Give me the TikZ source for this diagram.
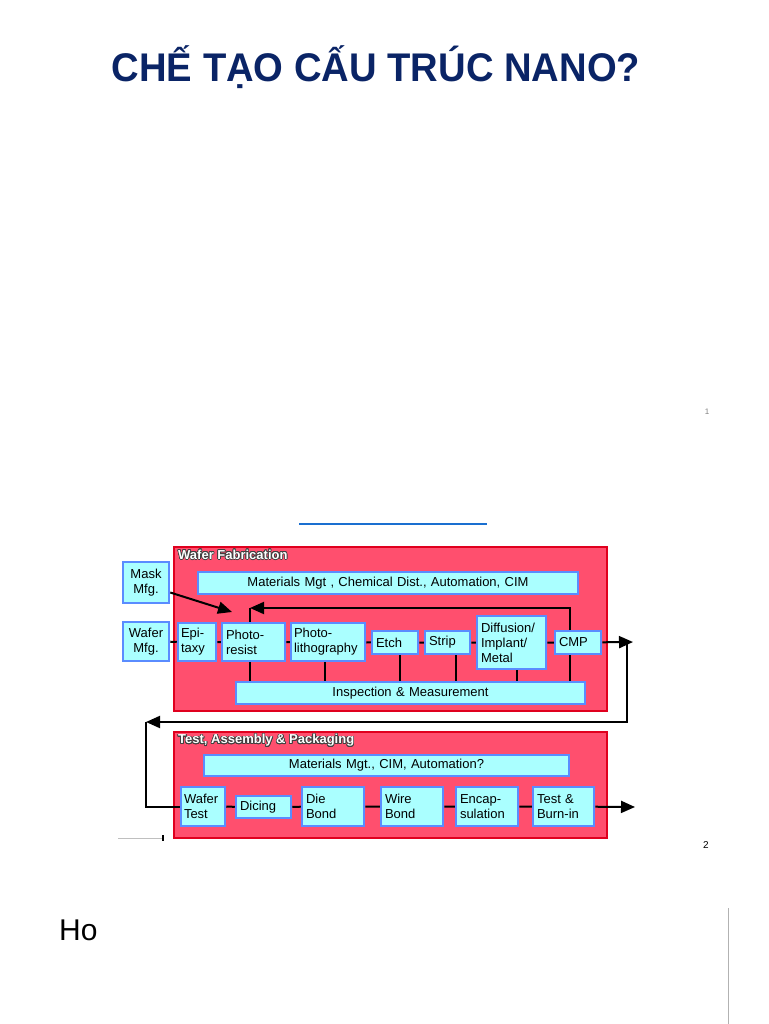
\documentclass[tikz,border=0pt]{standalone}
\usepackage{fontspec}
\setmainfont{Liberation Sans}
\usepackage{xcolor}
\usepackage[copies]{contour}
\usetikzlibrary{arrows.meta}
\definecolor{title-navy}{HTML}{0A2466}
\definecolor{panel-red}{HTML}{FF4F6E}
\definecolor{panel-edge}{HTML}{E0001E}
\definecolor{step-cyan}{HTML}{AAFFFF}
\definecolor{step-edge}{HTML}{5A8CFF}
\definecolor{link-blue}{HTML}{1A6FD0}
\contourlength{0.7pt}
\contournumber{16}

\begin{document}
\begin{tikzpicture}[x=1pt, y=-1pt,
      every node/.style={font=\fontsize{13}{15}\selectfont},
      panel/.style={draw=panel-edge, fill=panel-red, line width=2.5pt, inner sep=0pt},
      stepbox/.style={draw=step-edge, fill=step-cyan, line width=2.5pt,
                      inner sep=3pt, align=left},
      paneltitle/.style={anchor=west, inner sep=0pt, font=\bfseries\fontsize{13}{13}\selectfont},
      flow/.style={line width=2pt},
      tip/.style={-{Triangle[length=14pt,width=12pt]}}]
    \useasboundingbox (0,0) rectangle (768,1024);
    \node[font=\bfseries\fontsize{40}{48}\selectfont, text=title-navy] (title) at (376,67) {\scalebox{0.955}[1]{CHẾ TẠO CẤU TRÚC NANO?}};
    \node[font=\fontsize{8}{8}\selectfont, text=gray] (pg1) at (707,412) {1};
    \draw[link-blue, line width=2.5pt] (299,524) -- (487,524);
    % wafer fabrication panel
    \node[panel, minimum width=433, minimum height=164] (fab) at (390.5,629) {};
    \node[paneltitle] (fabtitle) at (178,555) {\contour{black!75}{\textcolor{white}{Wafer Fabrication}}};
    \node[stepbox, align=center, minimum width=46, minimum height=41, text width=40] (mmfg) at (146,582.5) {Mask\\Mfg.};
    \node[stepbox, align=center, minimum width=46, minimum height=39, text width=40] (wmfg) at (146,641.5) {Wafer\\Mfg.};
    \node[stepbox, align=center, minimum width=380, minimum height=22, text width=372] (mat1) at (388,583) {Materials Mgt , Chemical Dist., Automation, CIM};
    \node[stepbox, minimum width=38, minimum height=38, text width=32] (epi) at (197,642) {Epi-\\taxy};
    \node[stepbox, minimum width=63, minimum height=38, text width=55] (resist) at (253.5,642) {Photo-\\resist};
    \node[stepbox, minimum width=74, minimum height=38, text width=68] (litho) at (328,642) {Photo-\\lithography};
    \node[stepbox, minimum width=46, minimum height=23, text width=38] (etch) at (395,642.5) {Etch};
    \node[stepbox, minimum width=45, minimum height=23, text width=37] (strip) at (447.5,642.5) {Strip};
    \node[stepbox, minimum width=69, minimum height=53, text width=61] (diff) at (511.5,642.5) {Diffusion/\\Implant/\\Metal};
    \node[stepbox, minimum width=46, minimum height=23, text width=38] (cmp) at (578,642.5) {CMP};
    \node[stepbox, align=center, minimum width=349, minimum height=22, text width=341] (insp) at (410.5,693) {Inspection \& Measurement};
    \draw[flow] (wmfg) -- (epi) -- (resist) -- (litho) -- (etch) -- (strip) -- (diff) -- (cmp);
    \coordinate (maskin) at (232,612);
    \draw[flow, tip] ([yshift=-10pt]mmfg.east) -- (maskin);
    \coordinate (fbk) at (250,608);
    \draw[flow, tip] ([xshift=-8pt]cmp.north) |- (fbk);
    \draw[flow] (fbk) -- (fbk |- resist.north);
    \foreach \n/\dx in {resist/-3.5, litho/-3, etch/5, strip/8.5, diff/5.5, cmp/-8}
      \draw[flow] ([xshift=\dx pt]\n.south) coordinate (t) -- (t |- insp.north);
    \coordinate (fabout) at (633,642);
    \coordinate (turn) at (627,642);
    \coordinate (backin) at (146,722);
    \draw[flow, tip] (cmp) -- (fabout);
    \draw[flow, tip] (turn) |- (backin);
    % test, assembly and packaging panel
    \node[panel, minimum width=433, minimum height=106] (tap) at (390.5,785) {};
    \node[paneltitle] (taptitle) at (178,741) {\contour{black!75}{\textcolor{white}{Test, Assembly \& Packaging}}};
    \node[stepbox, align=center, minimum width=365, minimum height=21, text width=357] (mat2) at (386.5,765.5) {Materials Mgt., CIM, Automation?};
    \node[stepbox, minimum width=44, minimum height=39, text width=38] (wtest) at (203,806.5) {Wafer\\Test};
    \node[stepbox, minimum width=55, minimum height=22, text width=47] (dicing) at (263.5,807) {Dicing};
    \node[stepbox, minimum width=62, minimum height=39, text width=54] (diebond) at (333,806.5) {Die\\Bond};
    \node[stepbox, minimum width=62, minimum height=39, text width=54] (wirebond) at (412,806.5) {Wire\\Bond};
    \node[stepbox, minimum width=62, minimum height=39, text width=54] (encap) at (487,806.5) {Encap-\\sulation};
    \node[stepbox, minimum width=61, minimum height=39, text width=53] (burnin) at (563.5,806.5) {Test \&\\Burn-in};
    \draw[flow] (backin) |- (wtest);
    \draw[flow] (wtest) -- (dicing) -- (diebond) -- (wirebond) -- (encap) -- (burnin);
    \coordinate (tapout) at (635,807);
    \draw[flow, tip] (burnin) -- (tapout);
    \draw[gray!50, line width=0.8pt] (118,838) -- (162,838);
    \draw[line width=1.5pt] (163,835) -- (163,841);
    \node[font=\fontsize{10}{10}\selectfont] (pg2) at (706,845) {2};
    % lower slide
    \node[anchor=west, inner sep=0pt, font=\fontsize{30}{30}\selectfont] (ho) at (59,930) {Ho};
    \draw[gray!60, line width=1pt] (728,908) -- (728,1024);
  \end{tikzpicture}
\end{document}
